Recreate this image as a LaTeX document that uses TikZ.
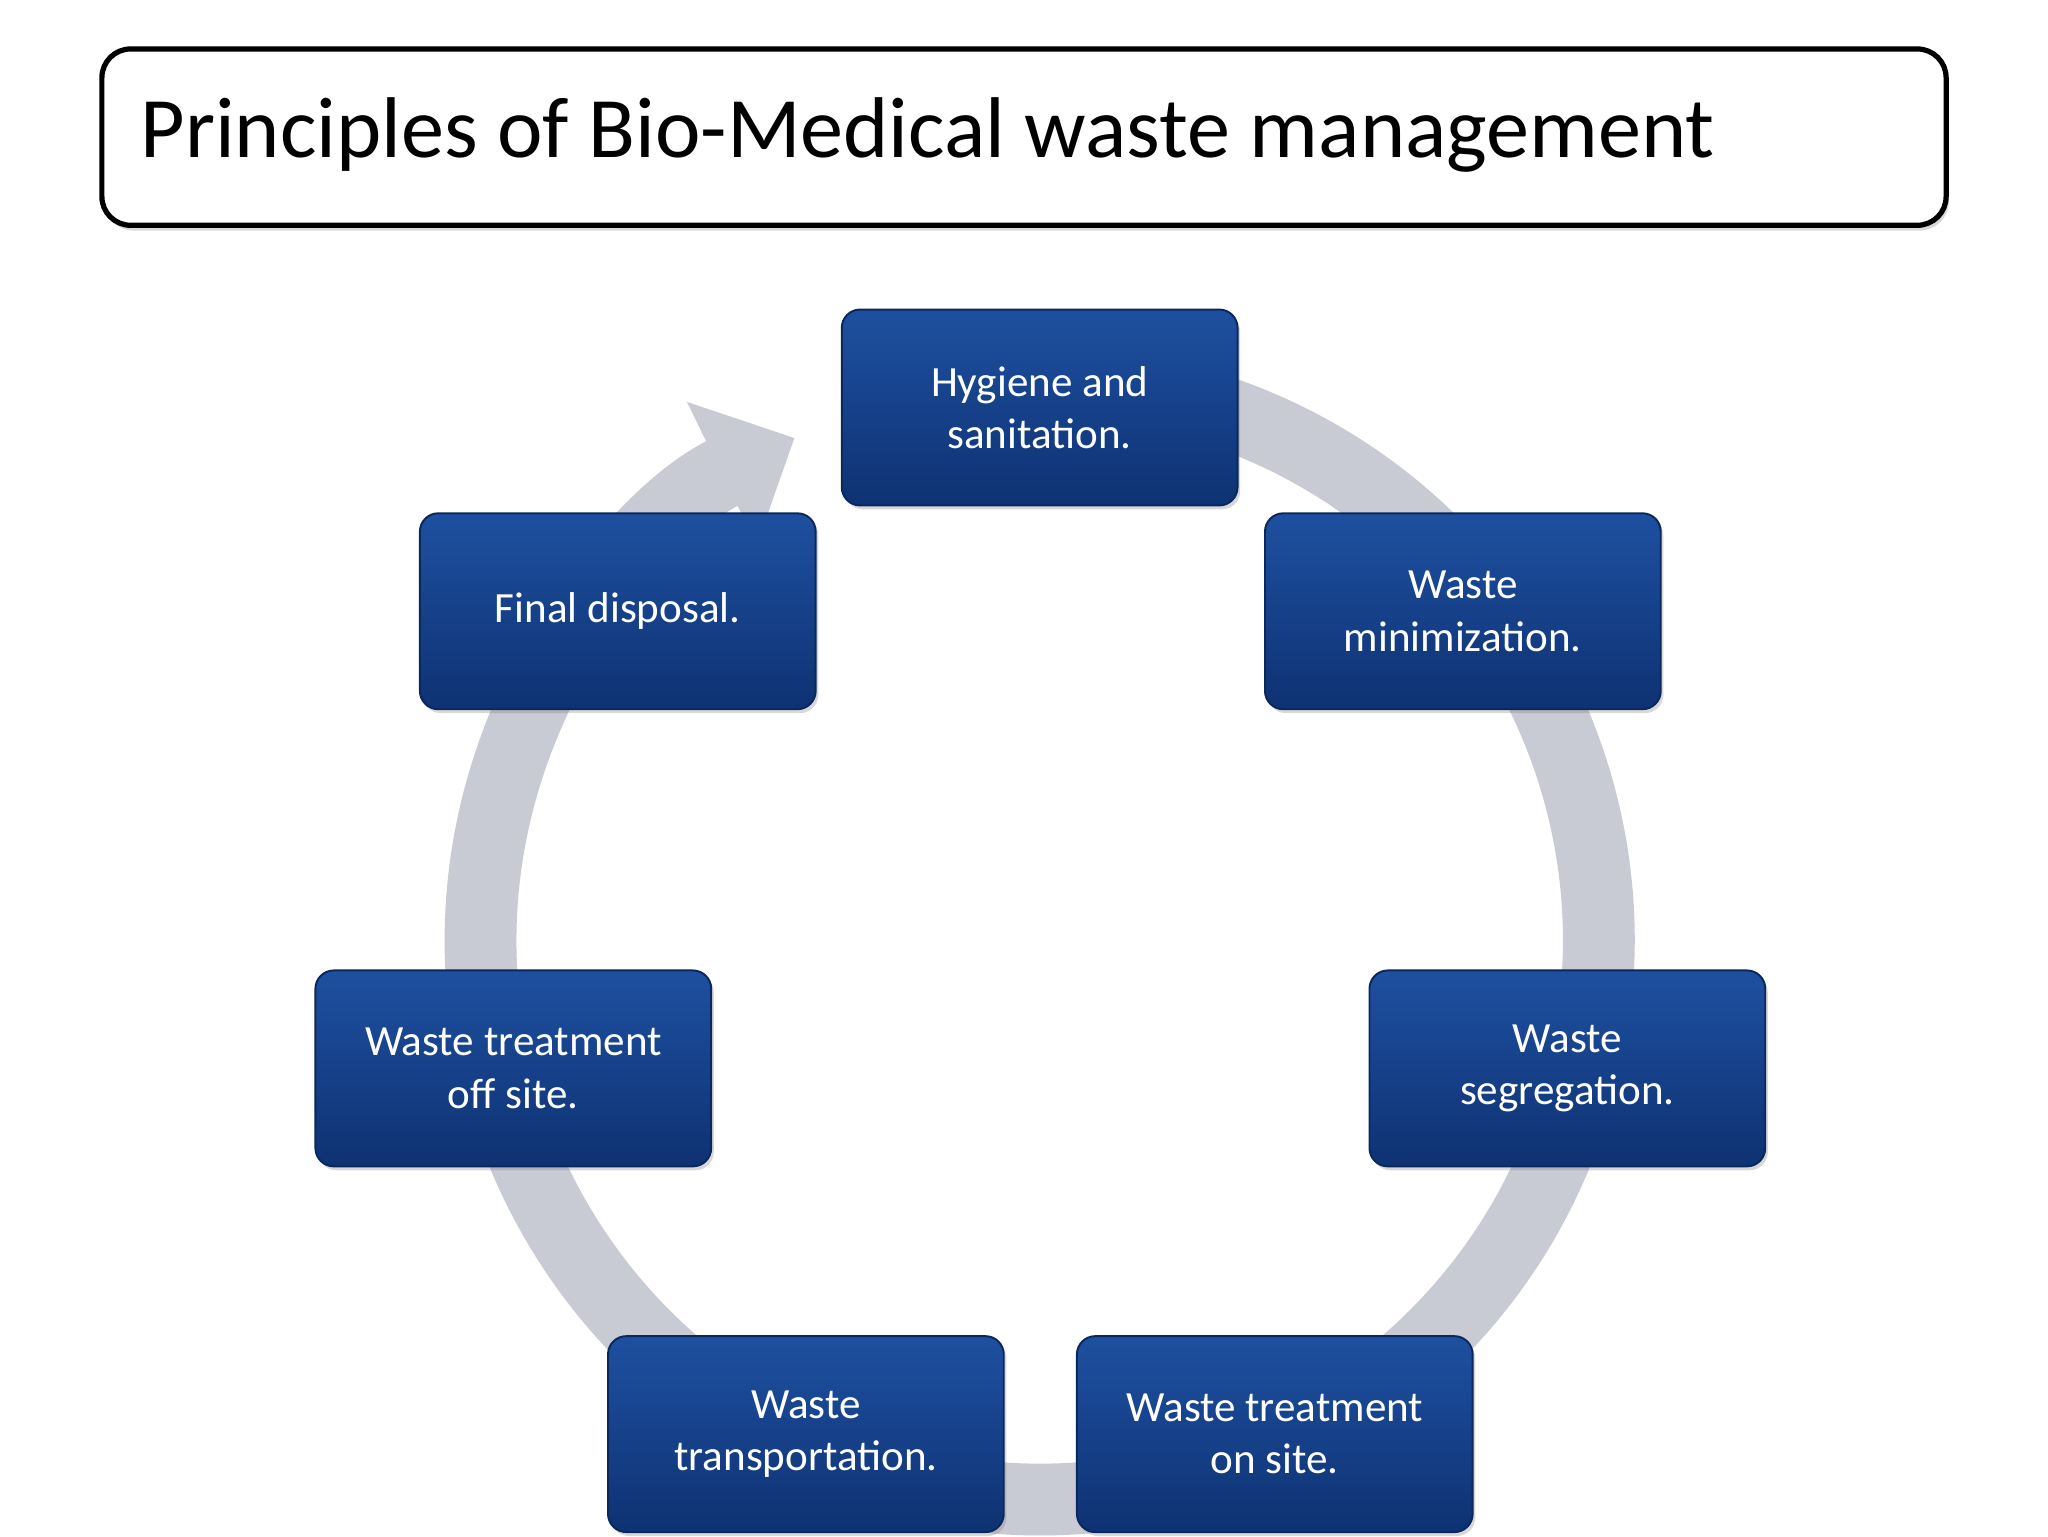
\documentclass[tikz,border=0pt]{standalone}
\usepackage{fontspec}
\setmainfont{Carlito}
\usetikzlibrary{arrows.meta,shadows}
\definecolor{ring}{RGB}{200,202,212}
\definecolor{boxtop}{RGB}{30,80,160}
\definecolor{boxbot}{RGB}{14,50,115}
\begin{document}
\begin{tikzpicture}[x=1pt,y=1pt,
  bmstep/.style={draw=boxbot!80!black,line width=1.5pt,rounded corners=14pt,
    top color=boxtop,bottom color=boxbot,minimum width=303pt,minimum height=150pt,
    text=white,font=\fontsize{33}{40}\selectfont,align=center,
    drop shadow={shadow xshift=2pt,shadow yshift=-3pt,opacity=0.3}}]
\useasboundingbox (0,0) rectangle (1568,1176);
\fill[white] (0,0) rectangle (1568,1176);
\node[draw,line width=4pt,rounded corners=22pt,minimum width=1412pt,minimum height=135pt,
  drop shadow={shadow xshift=2pt,shadow yshift=-4pt,opacity=0.3},fill=white] (title) at (784,1071) {};
\node[anchor=west,font=\fontsize{66}{70}\selectfont] (tt) at (104,1073) {Principles of Bio-Medical waste management};
\coordinate (c) at (796,456);
\draw[ring,line width=55pt,-{Triangle[length=62pt,width=118pt]}] ([shift={(75:428)}]c) arc[start angle=75,end angle=-244,radius=428];
\node[bmstep] (h) at (796,864) {Hygiene and\\sanitation.};
\node[bmstep] (m) at (1120,708) {Waste\\minimization.};
\node[bmstep] (s) at (1200,358) {Waste\\segregation.};
\node[bmstep] (on) at (976,78) {Waste treatment\\on site.};
\node[bmstep] (tr) at (617,78) {Waste\\transportation.};
\node[bmstep] (off) at (393,358) {Waste treatment\\off site.};
\node[bmstep] (f) at (473,708) {Final disposal.};
\end{tikzpicture}
\end{document}
